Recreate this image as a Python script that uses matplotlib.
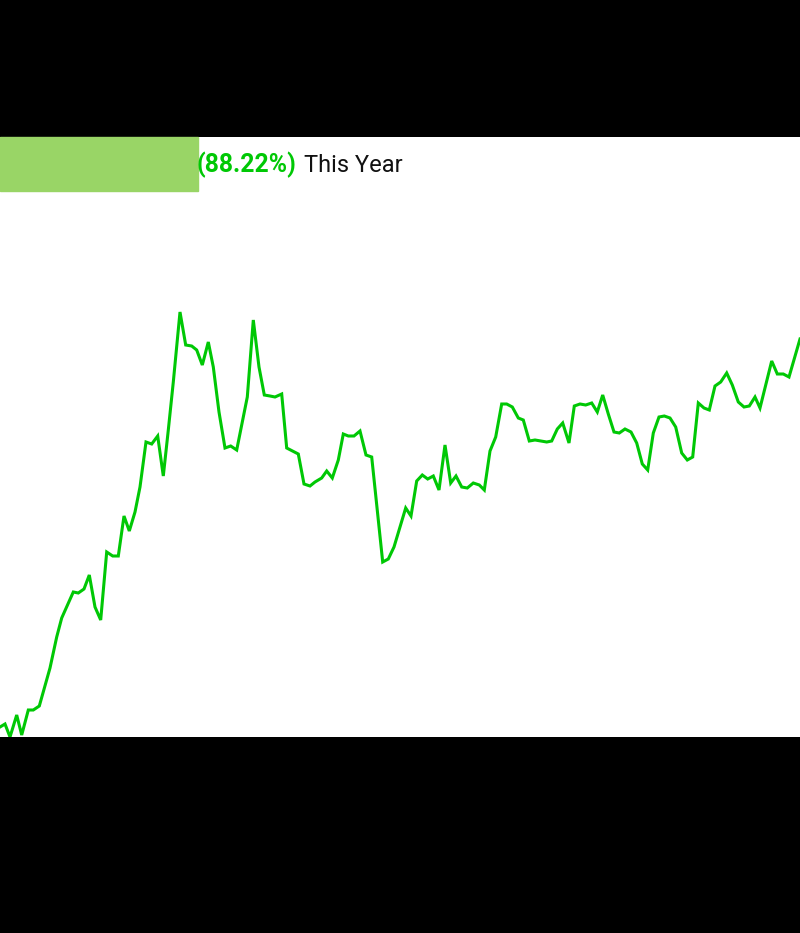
import numpy as np
from matplotlib import pyplot as plt
from matplotlib.patches import Rectangle

# price trace (day position, value above the bottom edge)
days = [0, 5, 10, 16.7, 21.7, 28.3, 33.3, 39.3, 50, 56.7, 61.7, 73.3, 78.3, 84, 89.3,
        95, 100.7, 106.7, 112.7, 118.3, 124, 129.3, 135, 140, 146, 151.7, 157.7, 163.3,
        168.3, 173.3, 180, 185.7, 191.7, 196.7, 202.3, 208.3, 213.3, 219, 225, 230.7,
        236.7, 247.3, 253.3, 259, 264.3, 270,
        275, 281.7, 286.7, 298.3, 304, 310, 315, 321.7, 326.7, 332.3, 338.3, 343.3,
        348.3, 354, 360, 366, 371.7, 377.3, 382.7, 388.3, 394, 400, 405.7, 411, 416.7,
        422.3, 427.7, 433.3, 439, 445, 450.7, 456, 461.7, 467.3, 473.3, 479.3, 484.3,
        490, 495.7, 501.7, 506.7, 512.3, 518.3, 523.3,
        529.3, 535, 540.7, 546.7, 551.7, 557.3, 562.7, 569, 574.3, 580, 585.7, 591.7,
        597.3, 602.7, 608.3, 614, 619.3, 625, 631, 636.7, 642.3, 647.7, 653.3, 659,
        664.3, 670, 675.7, 681.7, 687.3, 692.7, 698.3, 704, 709.3, 715, 720.7, 726.7,
        732.3, 738.3, 744, 749.3, 755, 760, 771.7, 777.3, 783.3, 789, 800]
values = [10, 13, 0, 22, 2, 27, 27, 31, 69, 100, 119, 145, 144, 148, 162,
          130, 117, 185, 181, 181, 221, 206, 225, 250, 295, 293, 301, 261,
          307, 355, 425, 392, 391, 387, 372, 395, 370, 325, 289, 291,
          287, 340, 417, 370, 342, 341,
          340, 343, 289, 283, 253, 251, 255, 259, 266, 259, 277, 303,
          301, 301, 306, 282, 280, 227, 175, 178, 190, 210, 229, 221, 256,
          262, 258, 261, 247, 292, 254, 261, 250, 249, 254, 252, 247,
          286, 300, 333, 333, 330, 319, 317,
          296, 297, 296, 295, 296, 308, 314, 294, 331, 333, 332, 334,
          325, 342, 323, 305, 304, 308, 305, 294, 273, 267, 304, 320,
          321, 319, 310, 284, 277, 280, 334, 329, 327, 351, 355, 364,
          352, 335, 330, 331, 340, 329, 376, 363, 363, 360, 398]
change_pct = "(88.22%)"
period = "This Year"

green = "#00c805"

fig = plt.figure(figsize=(8, 9.33), dpi=100, facecolor="black")
ax = fig.add_axes([0, 196 / 933, 1, 600 / 933])
ax.set_facecolor("white")
ax.plot(days, values, color=green, lw=2.2, solid_joinstyle="miter")
ax.set_xlim(0, 800)
ax.set_ylim(0, 600)
ax.set_axis_off()
ax.add_patch(Rectangle((0, 0), 1, 1, transform=ax.transAxes, color="white", zorder=0))

fig.patches.append(Rectangle((0, (933 - 191) / 933), 198 / 800, 54 / 933,
                             transform=fig.transFigure, color="#99d566", zorder=1))
fig.text(197 / 800, (933 - 172) / 933, change_pct, color=green, fontsize=17.8,
         fontweight="bold", family="Roboto", va="baseline", ha="left")
fig.text(304 / 800, (933 - 172) / 933, period, color="#111111", fontsize=17,
         family="Roboto", va="baseline", ha="left")

plt.savefig("out.png", dpi=100, facecolor="black")
